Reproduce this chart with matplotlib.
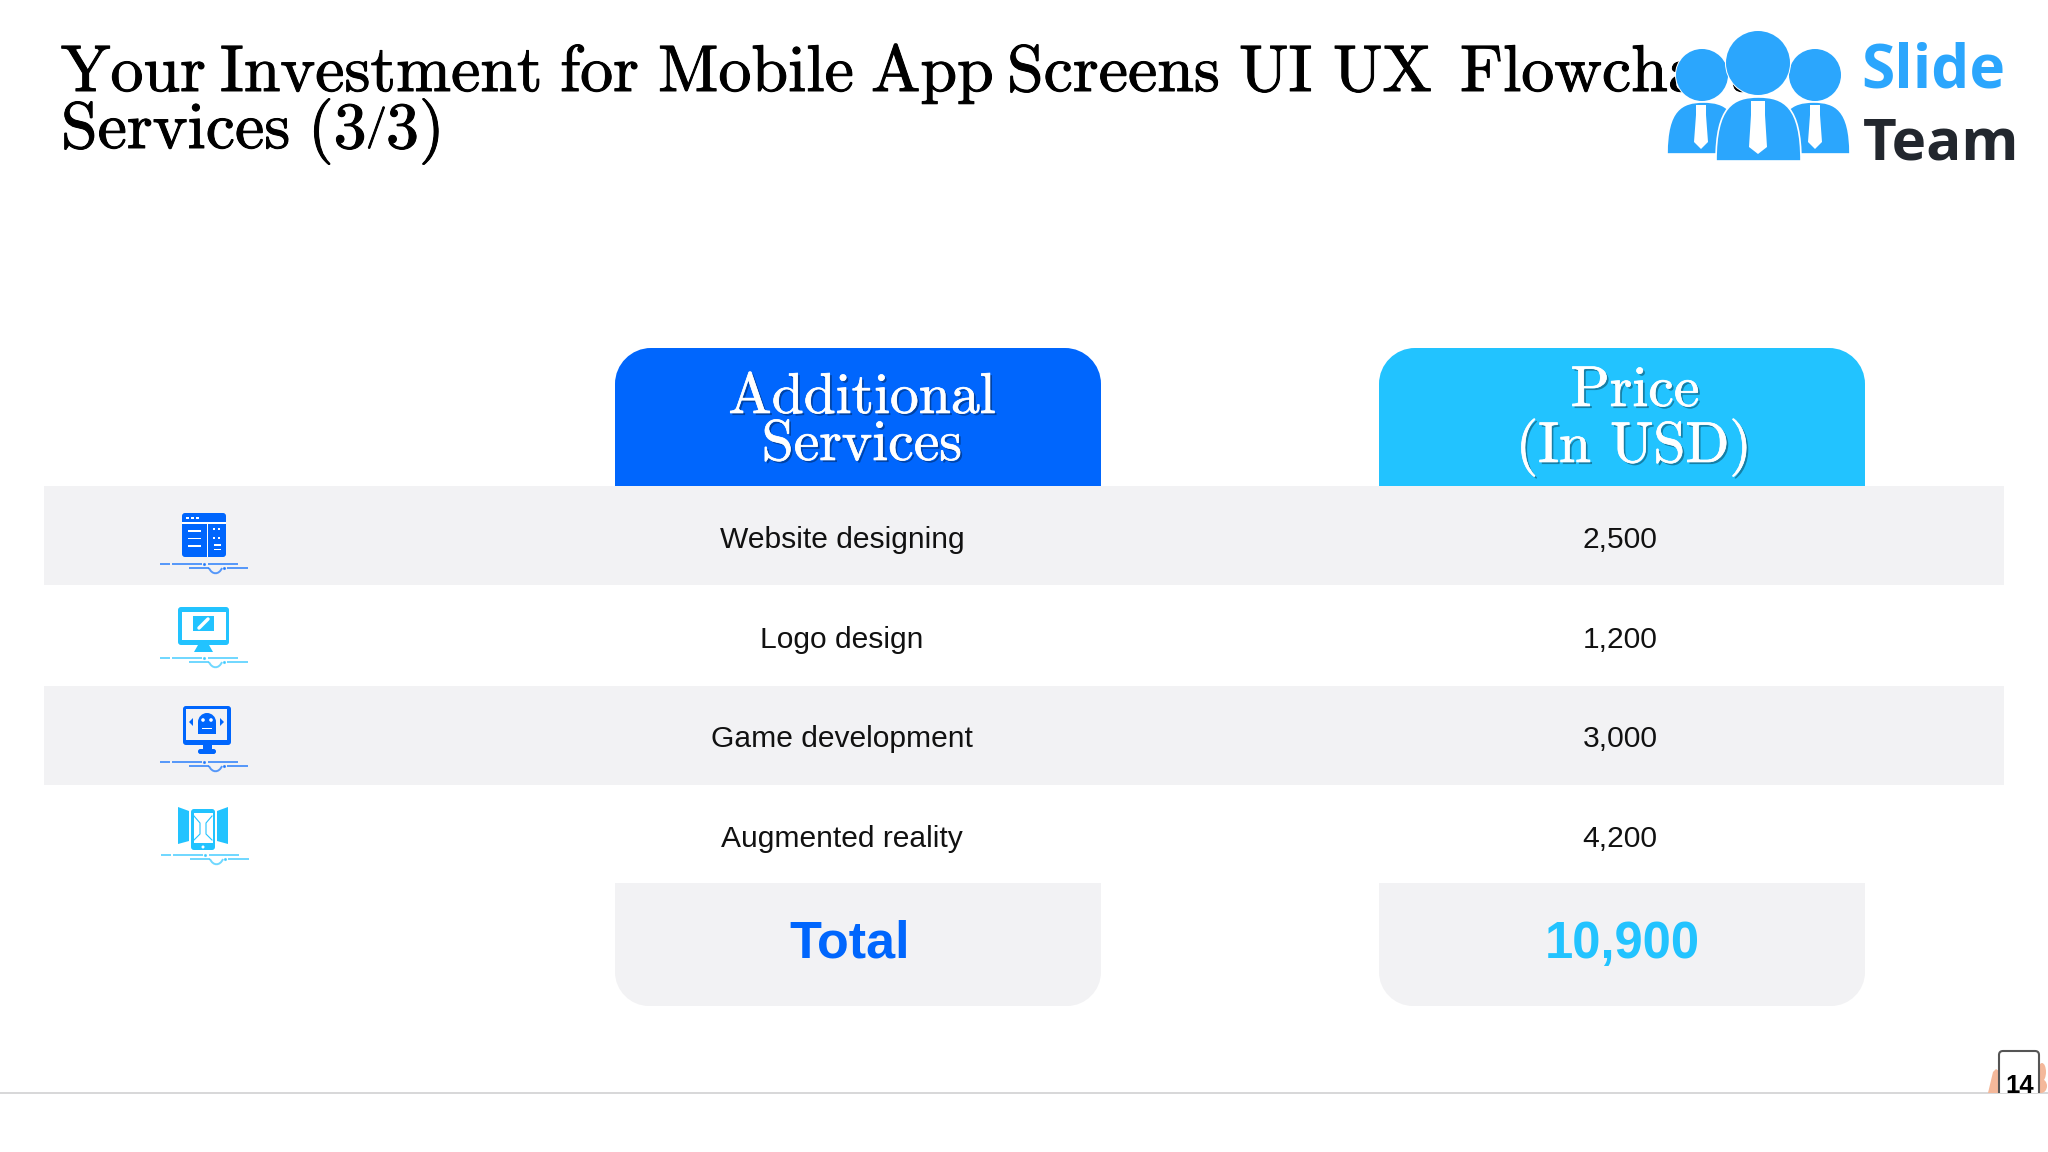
import matplotlib
matplotlib.use("Agg")
import matplotlib.pyplot as plt
import matplotlib.patheffects as pe
from matplotlib.patches import Circle, Ellipse, PathPatch, Polygon, Rectangle, FancyBboxPatch
from matplotlib.path import Path

# ----------------------------
# Data
# ----------------------------
title_top = ["Your", "Investment", "for", "Mobile", "App", "Screens", "UI", "UX", "Flowchart"]
title_bottom = ["Services", "(3", "3)"]
services = ["Website designing", "Logo design", "Game development", "Augmented reality"]
prices = ["2,500", "1,200", "3,000", "4,200"]
total_label = "Total"
total_value = "10,900"

BLUE = "#0066fd"
CYAN = "#22c3ff"
LOGO = "#2ba6fd"
BAND = "#f2f2f4"
SERIF = "cmr10"

fig = plt.figure(figsize=(20.48, 11.52), dpi=100)
ax = fig.add_axes([0, 0, 1, 1])
ax.set_xlim(0, 2048)
ax.set_ylim(1152, 0)
ax.axis("off")


def rounded(x0, x1, y0, y1, r, top=True, **kw):
    k = 0.45 * r
    if top:
        verts = [(x0, y1), (x0, y0 + r), (x0, y0 + k), (x0 + k, y0), (x0 + r, y0),
                 (x1 - r, y0), (x1 - k, y0), (x1, y0 + k), (x1, y0 + r), (x1, y1), (x0, y1)]
    else:
        verts = [(x0, y0), (x0, y1 - r), (x0, y1 - k), (x0 + k, y1), (x0 + r, y1),
                 (x1 - r, y1), (x1 - k, y1), (x1, y1 - k), (x1, y1 - r), (x1, y0), (x0, y0)]
    codes = [Path.MOVETO, Path.LINETO, Path.CURVE4, Path.CURVE4, Path.CURVE4,
             Path.LINETO, Path.CURVE4, Path.CURVE4, Path.CURVE4, Path.LINETO, Path.CLOSEPOLY]
    ax.add_patch(PathPatch(Path(verts, codes), lw=0, **kw))


def rect(x0, y0, x1, y1, color, z=3):
    ax.add_patch(Rectangle((x0, y0), x1 - x0, y1 - y0, fc=color, lw=0, zorder=z))


def rrect(x0, y0, x1, y1, color, r=3, z=3):
    ax.add_patch(FancyBboxPatch((x0 + r, y0 + r), x1 - x0 - 2 * r, y1 - y0 - 2 * r,
                                boxstyle=f"round,pad={r},rounding_size={r}", fc=color, lw=0, zorder=z))


def squiggle(y, color, x0=160):
    # the little broken line under each icon
    for a, b in [(0, 10), (12, 42), (48, 78)]:
        ax.plot([x0 + a, x0 + b], [y, y], color=color, lw=1.4, alpha=0.65, zorder=3, solid_capstyle="butt")
    ax.plot([x0 + 44], [y], ".", color=color, ms=2.5, alpha=0.65, zorder=3)
    y2 = y + 4
    for a, b in [(29, 49), (67, 88)]:
        ax.plot([x0 + a, x0 + b], [y2, y2], color=color, lw=1.4, alpha=0.65, zorder=3, solid_capstyle="butt")
    ax.plot([x0 + 64], [y2], ".", color=color, ms=2.5, alpha=0.65, zorder=3)
    bowl = Path([(x0 + 49, y2), (x0 + 52, y2 + 7), (x0 + 59, y2 + 7), (x0 + 62, y2)],
                [Path.MOVETO, Path.CURVE4, Path.CURVE4, Path.CURVE4])
    ax.add_patch(PathPatch(bowl, fc="none", ec=color, lw=1.4, alpha=0.65, zorder=3))


def title_word(word, x, y, size=47.5):
    ax.text(x, y, word, family=SERIF, fontsize=size, color="black", ha="left", va="baseline",
            zorder=5, path_effects=[pe.withStroke(linewidth=0.7, foreground="black")])


# ----------------------------
# Table
# ----------------------------
row_y = [540, 640, 739, 839]
for top, bottom in [(486, 585), (686, 785)]:
    rect(44, top, 2004, bottom, BAND, z=1)

rounded(615, 1101, 348, 486, 36, top=True, fc=BLUE, zorder=2)
rounded(1379, 1865, 348, 486, 36, top=True, fc=CYAN, zorder=2)
rounded(615, 1101, 883, 1006, 34, top=False, fc=BAND, zorder=2)
rounded(1379, 1865, 883, 1006, 34, top=False, fc=BAND, zorder=2)

shadow = [pe.SimplePatchShadow(offset=(1.5, -1.5), shadow_rgbFace="#000000", alpha=0.35),
          pe.Stroke(linewidth=0.5, foreground="white"), pe.Normal()]
for text, x, y in [("Additional", 862, 413), ("Services", 862, 460), ("Price", 1635, 406), ("(In USD)", 1634, 462)]:
    ax.text(x, y, text, family=SERIF, fontsize=41.5, color="white", ha="center", va="baseline",
            zorder=4, path_effects=shadow)

for service, price, y in zip(services, prices, row_y):
    ax.text(842, y, service, family="Liberation Sans", fontsize=21.6, color="#111111",
            ha="center", va="center", zorder=4)
    ax.text(1620, y, price, family="Liberation Sans", fontsize=21.6, color="#111111",
            ha="center", va="center", zorder=4)

ax.text(850, 958, total_label, family="Liberation Sans", fontweight="bold", fontsize=37.5,
        color=BLUE, ha="center", va="baseline", zorder=4)
ax.text(1622, 958, total_value, family="Liberation Sans", fontweight="bold", fontsize=36.5,
        color=CYAN, ha="center", va="baseline", zorder=4)

# ----------------------------
# Title (logo sits on top of it)
# words go down one at a time, the slide has tighter spacing than cmr10
# ----------------------------
for word, x in zip(title_top, [61, 220, 560, 658, 871, 1007, 1239, 1333, 1460]):
    title_word(word, x, 91)
for word, x in zip(title_bottom, [61, 308, 386]):
    title_word(word, x, 148)
title_word("/", 366, 138, size=30)

# ----------------------------
# Logo
# ----------------------------
Z = 6
for cx, cy, r in [(1702, 75, 26), (1815, 75, 26), (1758, 63, 32)]:
    ax.add_patch(Circle((cx, cy), r + 1, fc="white", lw=0, zorder=Z))
    ax.add_patch(Circle((cx, cy), r, fc=LOGO, lw=0, zorder=Z))


def dome(x0, x1, y0, y1, z):
    mid = (x0 + x1) / 2
    w = x1 - x0
    verts = [(x0, y1), (x0, y0 + (y1 - y0) * 0.15), (x0 + w * 0.2, y0), (mid, y0),
             (x1 - w * 0.2, y0), (x1, y0 + (y1 - y0) * 0.15), (x1, y1), (x0, y1)]
    codes = [Path.MOVETO, Path.CURVE4, Path.CURVE4, Path.CURVE4,
             Path.CURVE4, Path.CURVE4, Path.CURVE4, Path.CLOSEPOLY]
    ax.add_patch(PathPatch(Path(verts, codes), fc=LOGO, ec="white", lw=1.2, zorder=z))


def tie(cx, top, knot_w, blade_w, knot_h, bottom, z):
    ax.add_patch(Polygon([(cx - knot_w, top), (cx + knot_w, top), (cx + knot_w, top + knot_h),
                          (cx + blade_w, bottom - 7), (cx, bottom), (cx - blade_w, bottom - 7),
                          (cx - knot_w, top + knot_h)], fc="white", lw=0, zorder=z))


dome(1667, 1740, 102, 154, Z)
dome(1777, 1850, 102, 154, Z)
dome(1716, 1801, 97, 161, Z + 1)
tie(1701, 105, 5, 7, 10, 149, Z + 1)
tie(1815, 105, 5, 7, 10, 149, Z + 1)
tie(1758, 101, 7, 9, 14, 154, Z + 2)
ax.text(1861, 87, "Slide", family="Open Sans", fontweight="bold", fontsize=43.5, color=LOGO,
        ha="left", va="baseline", zorder=Z)
ax.text(1863, 160, "Team", family="Open Sans", fontweight="bold", fontsize=42, color="#22272e",
        ha="left", va="baseline", zorder=Z)

# ----------------------------
# Icons
# ----------------------------
# website
rrect(182, 513, 226, 557, BLUE)
rect(182, 522, 226, 523.5, "white", z=4)
rect(206.5, 523, 208, 557, "white", z=4)
for x in [187, 192, 197]:
    rect(x - 1.5, 516.5, x + 1.5, 518.5, "white", z=4)
for y in [531, 538.5, 546]:
    rect(188, y - 0.8, 201, y + 0.8, "white", z=4)
for x in [214, 219]:
    for y in [529, 538]:
        rect(x - 1, y - 1.2, x + 1, y + 1.2, "white", z=4)
for y in [545, 549.5]:
    rect(214, y - 0.8, 221, y + 0.8, "white", z=4)
squiggle(564, BLUE)

# logo design
rrect(178, 607, 229, 645, CYAN)
rect(182, 612, 226, 640, "white", z=4)
rect(193, 616, 214, 631, CYAN, z=5)
ax.plot([199, 208], [628, 619], color="white", lw=2.5, zorder=6, solid_capstyle="round")
ax.add_patch(Polygon([(198, 645), (209, 645), (213, 652), (194, 652)], fc=CYAN, lw=0, zorder=3))
squiggle(658, CYAN)

# game development
rrect(183, 706, 231, 745, BLUE)
rect(186, 709, 227, 740, BAND, z=4)
rect(203, 745, 212, 750, BLUE)
rrect(198, 749, 216, 754, BLUE, r=2.4)
rounded(198, 216, 713, 734, 9, top=True, fc=BLUE, zorder=5)
for x in [203, 211]:
    ax.add_patch(Circle((x, 720), 1.8, fc="white", lw=0, zorder=6))
rect(202, 728, 212, 729, "white", z=6)
ax.add_patch(Polygon([(189, 722), (193, 718), (193, 726)], fc=BLUE, lw=0, zorder=5))
ax.add_patch(Polygon([(224, 722), (220, 718), (220, 726)], fc=BLUE, lw=0, zorder=5))
squiggle(762, BLUE)

# augmented reality
ax.add_patch(Polygon([(178, 807), (189, 811), (189, 841), (178, 844)], fc=CYAN, lw=0, zorder=3))
ax.add_patch(Polygon([(217, 811), (228, 807), (228, 844), (217, 841)], fc=CYAN, lw=0, zorder=3))
rrect(191, 809, 215, 850, CYAN)
rect(193.5, 813, 212.5, 843, "white", z=4)
ax.plot([194, 200, 200, 194], [816, 823, 834, 840], color=CYAN, lw=0.8, zorder=5)
ax.plot([212, 206, 206, 212], [816, 823, 834, 840], color=CYAN, lw=0.8, zorder=5)
ax.add_patch(Circle((203, 847), 1.5, fc="white", lw=0, zorder=5))
squiggle(855, CYAN, x0=161)

# ----------------------------
# Footer
# ----------------------------
ax.plot([0, 2048], [1093, 1093], color="#d4d4d6", lw=1.3, zorder=2)
ax.add_patch(Polygon([(1988, 1093), (1993, 1072), (1996, 1069), (1999, 1071), (1999, 1093)],
                     fc="#f4b89a", lw=0, zorder=3))
ax.add_patch(Ellipse((2042, 1072), 8, 18, fc="#f4b89a", lw=0, zorder=3))
ax.add_patch(Ellipse((2041, 1086), 12, 14, fc="#f4b89a", lw=0, zorder=3))
frame = Path([(1999, 1093), (1999, 1055), (1999, 1051), (2003, 1051), (2035, 1051),
              (2039, 1051), (2039, 1055), (2039, 1093)],
             [Path.MOVETO, Path.LINETO, Path.CURVE3, Path.CURVE3, Path.LINETO,
              Path.CURVE3, Path.CURVE3, Path.LINETO])
ax.add_patch(PathPatch(frame, fc="white", ec="#555555", lw=1.5, zorder=4))
ax.text(2020, 1093, "14", family="Liberation Sans", fontweight="bold", fontsize=18.5,
        color="black", ha="center", va="baseline", zorder=5)

fig.savefig("out.png", dpi=100)
plt.close(fig)
